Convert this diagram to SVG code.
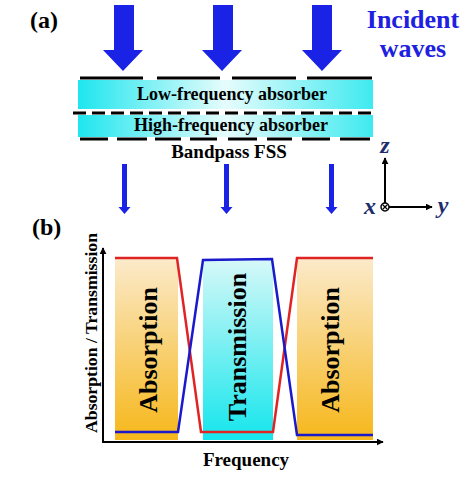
<svg xmlns="http://www.w3.org/2000/svg" width="474" height="492" viewBox="0 0 474 492">
<defs>
<linearGradient id="cyanH" x1="0" y1="0" x2="1" y2="0">
<stop offset="0" stop-color="#1ee6ee"/>
<stop offset="0.5" stop-color="#e6fcfc"/>
<stop offset="1" stop-color="#3eeaf0"/>
</linearGradient>
<linearGradient id="orangeV" x1="0" y1="0" x2="0" y2="1">
<stop offset="0" stop-color="#fbeacb"/>
<stop offset="1" stop-color="#f6b71a"/>
</linearGradient>
<linearGradient id="cyanV" x1="0" y1="0" x2="0" y2="1">
<stop offset="0" stop-color="#d6f8f8"/>
<stop offset="1" stop-color="#14e6ec"/>
</linearGradient>
<marker id="ah" viewBox="0 0 10 10" refX="9" refY="5" markerWidth="7" markerHeight="7" markerUnits="userSpaceOnUse" orient="auto">
<path d="M0,0 L10,5 L0,10 Z" fill="#000"/>
</marker>
</defs>
<style>
.t{font-family:"Liberation Serif","Times New Roman",serif;font-weight:bold;fill:#000}
.ax{font-family:"Liberation Serif","Times New Roman",serif;font-style:italic;font-weight:bold;fill:#1c2c6c;font-size:24px}
.big{fill:#1a22e6}
.dash{stroke:#000;stroke-width:3;fill:none}
</style>
<rect width="474" height="492" fill="#fff"/>

<g id="label-a"><text class="t" x="30" y="28" font-size="24">(a)</text></g>
<g id="label-b"><text class="t" x="32" y="235" font-size="24">(b)</text></g>

<g id="incident-label">
<text class="t" x="413" y="28" font-size="26" text-anchor="middle" style="fill:#2020e0">Incident</text>
<text class="t" x="413" y="57" font-size="26" text-anchor="middle" style="fill:#2020e0">waves</text>
</g>

<g id="incident-arrows">
<polygon class="big" points="114,5 134,5 134,50 143,50 123,71 103,50 114,50"/>
<polygon class="big" points="213,5 233,5 233,50 242,50 222,71 202,50 213,50"/>
<polygon class="big" points="312,5 332,5 332,50 342,50 322,71 302,50 312,50"/>
</g>

<g id="low-frequency-absorber">
<rect x="78" y="80" width="295" height="29" fill="url(#cyanH)"/>
<text class="t" x="232" y="100" font-size="18" text-anchor="middle">Low-frequency absorber</text>
</g>
<g id="high-frequency-absorber">
<rect x="78" y="115" width="295" height="22" fill="url(#cyanH)"/>
<text class="t" x="231" y="131" font-size="18" text-anchor="middle">High-frequency absorber</text>
</g>
<g id="bandpass-fss">
<text class="t" x="229" y="158" font-size="19" text-anchor="middle">Bandpass FSS</text>
</g>

<g id="layers-lines">
<path class="dash" d="M80,78 H143 M157,78 H220 M232,78 H296 M307,78 H372"/>
<line class="dash" x1="73" y1="113" x2="373" y2="113" stroke-dasharray="13 6"/>
<path class="dash" d="M80,139 H108 M117,139 H147 M155,139 H181 M190,139 H217 M228,139 H257 M267,139 H292 M302,139 H330 M340,139 H370"/>
</g>

<g id="transmitted-arrows">
<polygon class="big" points="122,164 127,164 127,207 130.5,207 124.5,214 118.5,207 122,207"/>
<polygon class="big" points="224,164 229,164 229,207 232.5,207 226.5,214 220.5,207 224,207"/>
<polygon class="big" points="329,164 334,164 334,207 337.5,207 331.5,214 325.5,207 329,207"/>
</g>

<g id="coordinate-axes">
<line x1="385" y1="207" x2="385" y2="158" stroke="#000" stroke-width="2" marker-end="url(#ah)"/>
<line x1="385" y1="207" x2="432" y2="207" stroke="#000" stroke-width="2" marker-end="url(#ah)"/>
<circle cx="385" cy="207" r="4" fill="#fff" stroke="#000" stroke-width="1.5"/>
<path d="M382.5,204.5 L387.5,209.5 M387.5,204.5 L382.5,209.5" stroke="#000" stroke-width="1.2"/>
<text class="ax" x="385" y="153" text-anchor="middle">z</text>
<text class="ax" x="370" y="214" text-anchor="middle">x</text>
<text class="ax" x="443" y="213" text-anchor="middle">y</text>
</g>

<g id="bands">
<rect x="115" y="258" width="63" height="182" fill="url(#orangeV)"/>
<rect x="203" y="260" width="70" height="180" fill="url(#cyanV)"/>
<rect x="297" y="258" width="76" height="182" fill="url(#orangeV)"/>
<text class="t" font-size="26" transform="translate(157,350) rotate(-90)" text-anchor="middle">Absorption</text>
<text class="t" font-size="26" transform="translate(246,347) rotate(-90)" text-anchor="middle">Transmission</text>
<text class="t" font-size="26" transform="translate(339,350) rotate(-90)" text-anchor="middle">Absorption</text>
</g>

<g id="curves">
<polyline points="115,258 177,258 201,432 273,432 297,258 373,258" fill="none" stroke="#e02424" stroke-width="2.5"/>
<polyline points="115,432 178,432 203,260 272,259 297,435 373,435" fill="none" stroke="#1a1acc" stroke-width="2.5"/>
</g>

<g id="plot-axes">
<line x1="103" y1="442" x2="103" y2="248" stroke="#000" stroke-width="2" marker-end="url(#ah)"/>
<line x1="102" y1="442" x2="383" y2="442" stroke="#000" stroke-width="2" marker-end="url(#ah)"/>
<text class="t" font-size="16" transform="translate(97,333) rotate(-90)" text-anchor="middle" textLength="200" lengthAdjust="spacingAndGlyphs">Absorption / Transmission</text>
<text class="t" x="246" y="466" font-size="19" text-anchor="middle">Frequency</text>
</g>
</svg>
